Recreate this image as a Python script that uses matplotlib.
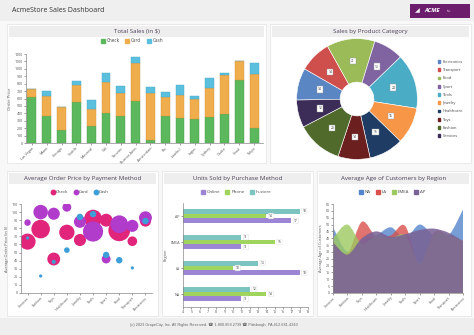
import numpy as np
import matplotlib.pyplot as plt
from matplotlib.patches import Rectangle, PathPatch, Patch
from matplotlib.path import Path
from matplotlib.lines import Line2D

plt.rcParams['font.family'] = ['Open Sans', 'DejaVu Sans']

W, H = 474, 335

# ---- data ----
cities = ['Las Vegas', 'Miami', 'Chicago', 'Seattle', 'Montreal', 'Cali', 'Toronto',
          'Buenos Aires', 'Amsterdam', 'Rio', 'Istanbul', 'Lagos', 'Sydney', 'Osaka',
          'Seoul', 'Tokyo']
check_sales = [620, 368, 180, 553, 229, 409, 368, 571, 45, 368, 342, 328, 350, 387, 854, 207]
card_sales = [110, 261, 310, 229, 225, 413, 302, 508, 625, 248, 301, 270, 392, 525, 256, 723]
cash_sales = [0, 76, 0, 58, 121, 122, 94, 85, 85, 67, 139, 40, 134, 27, 0, 144]

categories = ['Electronics', 'Transport', 'Food', 'Sport', 'Tools', 'Jewelry',
              'Healthcare', 'Toys', 'Fashion', 'Services']
category_sales = [14, 14, 21, 13, 24, 16, 15, 14, 20, 12]
category_colors = ['#5a86c4', '#cf4f4c', '#9bbb59', '#8064a2', '#4bacc6', '#f79646',
                   '#1f3d64', '#6b1f1f', '#4f6a2a', '#3b2d58']

products = ['Services', 'Fashion', 'Toys', 'Healthcare', 'Jewelry', 'Tools', 'Sport',
            'Food', 'Transport', 'Electronics']
check_price = [63.5, 79, 42, 75, 65.5, 92, 90, 77.5, 64, 89]
check_size = [20, 23, 16, 19, 15, 22, 16, 27, 12, 14]
card_price = [87, 100, 98, 106, 88, 76, 42, 85, 83, 93]
card_size = [8, 18, 15, 11, 15, 25, 11, 22, 15, 16]
cash_price = [68, 21, 38.5, 53, 94, 97.5, 47, 40.5, 31, 89]
cash_size = [4, 4, 5, 7, 8, 8, 8, 8, 4, 8]

regions = ['NA', 'LA', 'EMEA', 'AP']
online = [11, 18, 11, 17]
phone = [14, 10, 15, 14]
instore = [12, 13, 11, 18]

age_na = [48, 30, 39, 42, 48, 40, 50, 42, 42, 61]
age_la = [38, 29, 52, 41, 42, 49, 20, 44, 42, 38]
age_emea = [40, 50, 36, 42, 40, 42, 22, 43, 42, 38]
age_ap = [37, 28, 40, 45, 41, 43, 46, 47, 44, 38]


def rect(x0, y0, x1, y1):
    return [x0 / W, 1 - y1 / H, (x1 - x0) / W, (y1 - y0) / H]


def fx(x):
    return x / W


def fy(y):
    return 1 - y / H


def style_axes(ax):
    for s in ['top', 'right']:
        ax.spines[s].set_visible(False)
    for s in ['left', 'bottom']:
        ax.spines[s].set_color('#888888')
        ax.spines[s].set_linewidth(0.5)
    ax.tick_params(labelsize=2.6, length=1.2, width=0.4, pad=1, colors='#555555')
    ax.set_facecolor('white')


def spline_area(ax, xs, ys, color, alpha):
    # catmull-rom curve drawn as bezier path down to the baseline
    pts = np.column_stack([xs, ys]).astype(float)
    ext = np.vstack([pts[0], pts, pts[-1]])
    verts = [(pts[0, 0], 0), tuple(pts[0])]
    codes = [Path.MOVETO, Path.LINETO]
    for i in range(len(pts) - 1):
        p0, p1, p2, p3 = ext[i], ext[i + 1], ext[i + 2], ext[i + 3]
        c1 = p1 + (p2 - p0) / 6
        c2 = p2 - (p3 - p1) / 6
        verts += [tuple(c1), tuple(c2), tuple(p2)]
        codes += [Path.CURVE4] * 3
    verts += [(pts[-1, 0], 0), (pts[0, 0], 0)]
    codes += [Path.LINETO, Path.CLOSEPOLY]
    ax.add_patch(PathPatch(Path(verts, codes), fc=color, ec='none', alpha=alpha))


fig = plt.figure(figsize=(W / 100, H / 100), dpi=100)
fig.patch.set_facecolor('#f8f8f8')

# header / footer
fig.add_artist(Rectangle((0, fy(21)), 1, 21 / H, transform=fig.transFigure,
                         fc='#efefef', ec='none', zorder=0))
fig.text(fx(12), fy(10), 'AcmeStore Sales Dashboard', fontsize=5, color='#333333',
         va='center')
fig.add_artist(Rectangle((fx(410), fy(18)), 60 / W, 14 / H, transform=fig.transFigure,
                         fc='#6c1d6c', ec='none'))
fig.text(fx(424), fy(11), 'ACME', fontsize=4.2, color='white', va='center',
         style='italic', fontweight='bold')
fig.text(fx(447), fy(11), 'inc.', fontsize=2.2, color='white', va='center')
fig.text(fx(417), fy(11), '◢', fontsize=4.5, color='white', va='center', ha='center',
         family=['DejaVu Sans'])
fig.add_artist(Rectangle((0, 0), 1, 17 / H, transform=fig.transFigure,
                         fc='#eeeeee', ec='none', zorder=0))
fig.text(fx(214), fy(325), '(c) 2023 GrapeCity, Inc. All Rights Reserved. \u260e 1.800.858.2739 '
         '\u260e Pittsburgh, PA 412.681.4343', fontsize=2.8, color='#666666',
         ha='center', va='center', family=['Liberation Sans', 'DejaVu Sans'])

# panels
panels = [(7, 24, 266, 163, 'Total Sales (in $)'),
          (270, 24, 471, 163, 'Sales by Product Category'),
          (7, 171, 158, 316, 'Average Order Price by Payment Method'),
          (162, 171, 313, 316, 'Units Sold by Purchase Method'),
          (317, 171, 471, 316, 'Average Age of Customers by Region')]
for x0, y0, x1, y1, title in panels:
    fig.add_artist(Rectangle((fx(x0), fy(y1)), (x1 - x0) / W, (y1 - y0) / H,
                             transform=fig.transFigure, fc='white', ec='#e2e2e2',
                             lw=0.5, zorder=0))
    fig.add_artist(Rectangle((fx(x0 + 2), fy(y0 + 13)), (x1 - x0 - 4) / W, 11 / H,
                             transform=fig.transFigure, fc='#eeeeee', ec='none',
                             zorder=0))
    fig.text(fx((x0 + x1) / 2), fy(y0 + 7.5), title, fontsize=4.4, color='#4a3f55',
             ha='center', va='center')

# ---- total sales stacked bars ----
ax1 = fig.add_axes(rect(26, 54, 263, 143))
style_axes(ax1)
xi = np.arange(len(cities))
c_check, c_card, c_cash = '#5cb85c', '#f0ad4e', '#5bc0de'
ax1.bar(xi, check_sales, 0.6, color=c_check, ec='#4a9a4a', lw=0.3)
ax1.bar(xi, card_sales, 0.6, bottom=check_sales, color=c_card, ec='#d8953a', lw=0.3)
ax1.bar(xi, cash_sales, 0.6, bottom=np.add(check_sales, card_sales), color=c_cash,
        ec='#46a8c4', lw=0.3)
ax1.set_xlim(-0.4, 15.6)
ax1.set_ylim(0, 1200)
ax1.set_yticks(range(0, 1201, 100))
ax1.set_xticks(xi)
ax1.set_xticklabels(cities, rotation=45, ha='right', rotation_mode='anchor')
ax1.set_ylabel('Order Price', fontsize=3, color='#555555', labelpad=2)
fig.legend(handles=[Patch(color=c_check), Patch(color=c_card), Patch(color=c_cash)],
           labels=['Check', 'Card', 'Cash'], loc='center',
           bbox_to_anchor=(fx(132), fy(41)), ncol=3, frameon=False, fontsize=3.3,
           handlelength=0.9, handleheight=0.9, handletextpad=0.4, columnspacing=1.2,
           labelcolor='#444444')

# ---- donut ----
ax2 = fig.add_axes(rect(296, 38, 418, 160))
wedges, _ = ax2.pie(category_sales, colors=category_colors, startangle=181,
                    counterclock=False, radius=1,
                    wedgeprops=dict(width=0.72, edgecolor='white', linewidth=0.4))
ax2.set_xlim(-1.01, 1.01)
ax2.set_ylim(-1.01, 1.01)
ax2.set_aspect('equal')
for w, v in zip(wedges, category_sales):
    ang = np.deg2rad((w.theta1 + w.theta2) / 2)
    ax2.text(0.63 * np.cos(ang), 0.63 * np.sin(ang), str(v), fontsize=2.4,
             ha='center', va='center', color='#333333',
             bbox=dict(boxstyle='square,pad=0.35', fc='white', ec='#999999', lw=0.3))
fig.legend(handles=[Patch(color=c) for c in category_colors], labels=categories,
           loc='center left', bbox_to_anchor=(fx(434), fy(99)), frameon=False,
           fontsize=2.9, handlelength=0.7, handleheight=0.7, handletextpad=0.5,
           labelspacing=1.05, labelcolor='#444444')

# ---- bubble chart ----
ax3 = fig.add_axes(rect(21, 204, 152, 293))
style_axes(ax3)
px = np.arange(len(products))
b_check, b_card, b_cash = '#e0257a', '#b13bcb', '#3d9fd8'
ax3.scatter(px, check_price, s=(np.array(check_size) * 0.58) ** 2, color=b_check,
            lw=0, zorder=2)
ax3.scatter(px, card_price, s=(np.array(card_size) * 0.58) ** 2, color=b_card,
            lw=0, zorder=3)
ax3.scatter(px, cash_price, s=(np.array(cash_size) * 0.58) ** 2, color=b_cash,
            lw=0, zorder=4)
ax3.set_xlim(-0.5, 9.5)
ax3.set_ylim(0, 110)
ax3.set_yticks(range(0, 111, 10))
ax3.set_xticks(px)
ax3.set_xticklabels(products, rotation=45, ha='right', rotation_mode='anchor')
ax3.set_ylabel('Average Order Price (in $)', fontsize=2.8, color='#555555', labelpad=2)
fig.legend(handles=[Line2D([], [], marker='o', ls='none', color=c, markersize=3.2)
                    for c in (b_check, b_card, b_cash)],
           labels=['Check', 'Card', 'Cash'], loc='center',
           bbox_to_anchor=(fx(80), fy(192)), ncol=3, frameon=False, fontsize=3.2,
           handlelength=0.8, handletextpad=0.3, columnspacing=1.2,
           labelcolor='#444444')

# ---- units sold hbar ----
ax4 = fig.add_axes(rect(183, 203, 308, 307))
style_axes(ax4)
ry = np.arange(len(regions))
h_on, h_ph, h_in = '#9b85d4', '#9fd45d', '#7bc4bf'
bh = 0.19
lab = dict(fontsize=2.4, padding=2, color='#444444',
           bbox=dict(boxstyle='round,pad=0.25', fc='white', ec='#dddddd', lw=0.3))
r1 = ax4.barh(ry - 0.19, online, bh, color=h_on)
r2 = ax4.barh(ry, phone, bh, color=h_ph)
r3 = ax4.barh(ry + 0.19, instore, bh, color=h_in)
for r in (r1, r2, r3):
    ax4.bar_label(r, **lab)
ax4.set_xlim(4, 19)
ax4.set_xticks(range(4, 20))
ax4.set_ylim(-0.5, 3.5)
ax4.set_yticks(ry)
ax4.set_yticklabels(regions)
ax4.set_ylabel('Region', fontsize=2.8, color='#555555', labelpad=2)
fig.legend(handles=[Patch(color=c) for c in (h_on, h_ph, h_in)],
           labels=['Online', 'Phone', 'In-store'], loc='center',
           bbox_to_anchor=(fx(236), fy(192)), ncol=3, frameon=False, fontsize=3.2,
           handlelength=0.9, handleheight=0.9, handletextpad=0.4, columnspacing=1.2,
           labelcolor='#444444')

# ---- age spline areas ----
ax5 = fig.add_axes(rect(333, 204, 463, 293))
style_axes(ax5)
a_na, a_la, a_emea, a_ap = '#5585cc', '#d9504c', '#9cc960', '#7a6397'
for ys, col, al in ((age_na, a_na, 0.8), (age_la, a_la, 0.8), (age_emea, a_emea, 0.8),
                    (age_ap, a_ap, 0.88)):
    spline_area(ax5, px, ys, col, al)
ax5.set_xlim(0, 9)
ax5.set_ylim(0, 65)
ax5.set_yticks(range(0, 66, 5))
ax5.set_xticks(px)
ax5.set_xticklabels(products, rotation=45, ha='right', rotation_mode='anchor')
ax5.set_ylabel('Average Age of Customers', fontsize=2.8, color='#555555', labelpad=2)
fig.legend(handles=[Patch(color=c) for c in (a_na, a_la, a_emea, a_ap)],
           labels=regions, loc='center', bbox_to_anchor=(fx(392), fy(192)), ncol=4,
           frameon=False, fontsize=3.2, handlelength=0.9, handleheight=0.9,
           handletextpad=0.4, columnspacing=1.2, labelcolor='#444444')

fig.savefig('out.png', dpi=100, facecolor=fig.get_facecolor())
